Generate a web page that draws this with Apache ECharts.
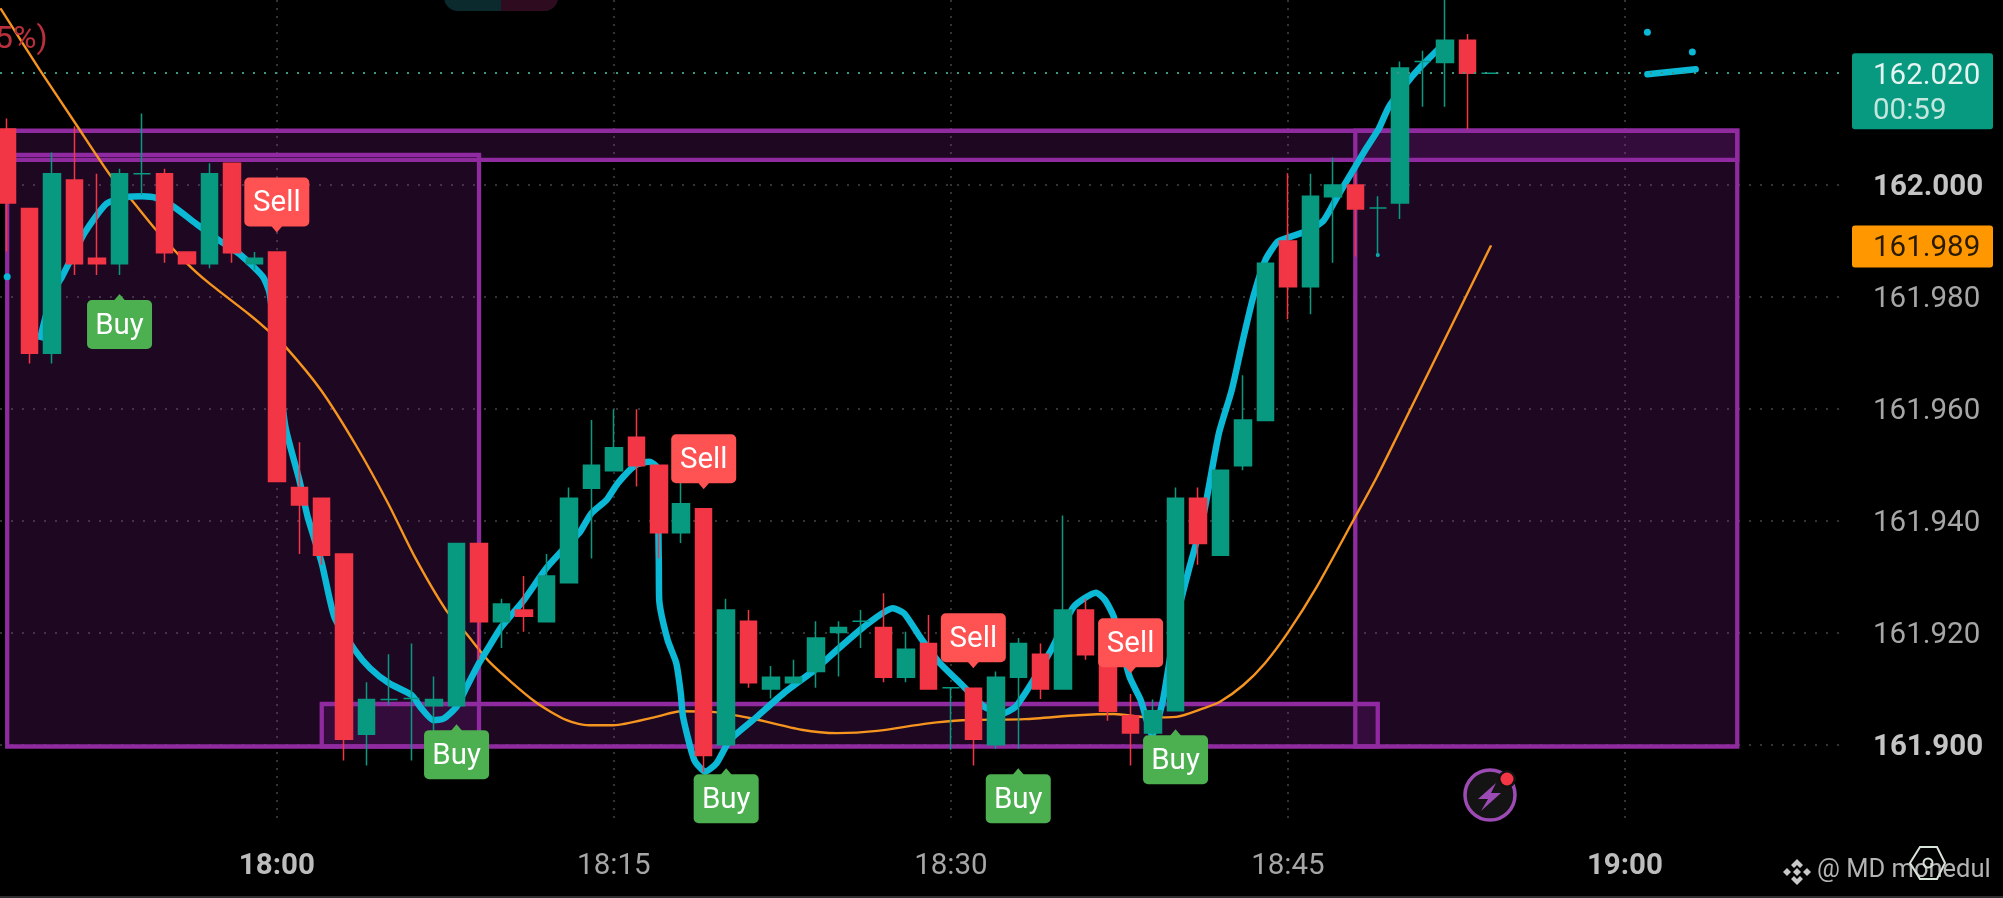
<!DOCTYPE html>
<html><head><meta charset="utf-8">
<style>html,body{margin:0;padding:0;background:#000;overflow:hidden}#c{width:2003px;height:898px}</style>
<script src="https://cdn.jsdelivr.net/npm/echarts@6/dist/echarts.min.js"></script>
</head><body><div id="c"></div>
<script>
// minutes of the day; candle i sits at firstMinute + i
const firstMinute = 1068; // 17:48
const opens  = [162.0100,161.9958,161.9699,162.0009,161.9869,161.9859,162.0020,162.0020,161.9880,161.9859,162.0039,161.9859,161.9880,161.9459,161.9440,161.9340,161.9018,161.9080,161.9082,161.9069,161.9069,161.9359,161.9219,161.9240,161.9219,161.9289,161.9458,161.9489,161.9549,161.9499,161.9378,161.9421,161.8999,161.9220,161.9099,161.9110,161.9130,161.9200,161.9220,161.9209,161.9120,161.9180,161.9101,161.9100,161.8999,161.9120,161.9161,161.9099,161.9240,161.9150,161.9051,161.9020,161.9060,161.9440,161.9338,161.9498,161.9579,161.9900,161.9818,161.9979,162.0000,161.9959,161.9968,162.0221,162.0219,162.0259,162.0200];
const closes = [161.9968,161.9699,162.0020,161.9859,161.9859,162.0020,162.0020,161.9879,161.9859,162.0020,161.9879,161.9869,161.9470,161.9428,161.9338,161.9009,161.9080,161.9080,161.9082,161.9080,161.9359,161.9219,161.9251,161.9229,161.9301,161.9440,161.9499,161.9530,161.9498,161.9378,161.9430,161.8980,161.9240,161.9110,161.9120,161.9120,161.9190,161.9209,161.9220,161.9120,161.9170,161.9099,161.9101,161.9009,161.9120,161.9180,161.9099,161.9240,161.9160,161.9059,161.9020,161.9060,161.9440,161.9359,161.9490,161.9580,161.9860,161.9818,161.9980,162.0000,161.9957,161.9959,162.0209,162.0221,162.0259,162.0200,162.0200];
const highs  = [162.0119,161.9958,162.0058,162.0105,162.0020,162.0029,162.0128,162.0029,161.9880,162.0039,162.0039,161.9880,161.9880,161.9540,161.9440,161.9340,161.9111,161.9161,161.9180,161.9121,161.9359,161.9359,161.9260,161.9301,161.9340,161.9459,161.9580,161.9599,161.9599,161.9499,161.9499,161.9421,161.9260,161.9240,161.9140,161.9151,161.9220,161.9220,161.9240,161.9270,161.9201,161.9231,161.9101,161.9100,161.9130,161.9190,161.9180,161.9409,161.9260,161.9180,161.9090,161.9080,161.9459,161.9459,161.9490,161.9660,161.9860,162.0021,162.0020,162.0049,162.0020,161.9980,162.0221,162.0240,162.0331,162.0270,162.0200];
const lows   = [161.9881,161.9681,161.9681,161.9839,161.9839,161.9839,161.9982,161.9861,161.9859,161.9851,161.9861,161.9848,161.9470,161.9340,161.9321,161.8971,161.8962,161.9070,161.8971,161.9012,161.9069,161.9151,161.9172,161.9201,161.9219,161.9289,161.9332,161.9489,161.9461,161.9332,161.9360,161.8950,161.8999,161.9101,161.9082,161.9110,161.9101,161.9121,161.9172,161.9111,161.9111,161.9099,161.8990,161.8962,161.8992,161.8992,161.9081,161.9099,161.9151,161.9042,161.8962,161.9017,161.9060,161.9321,161.9338,161.9490,161.9579,161.9760,161.9769,161.9861,161.9872,161.9872,161.9939,162.0140,162.0140,162.0100,162.0200];

// thick cyan line: minutes after 17:48 and price
const cyanT = [1.45,2,2.44,3.44,4.43,5.42,6.02,6.62,7.41,8.4,9.4,10.39,11.38,11.68,12,12.38,13,13.37,14,14.56,15.46,16.15,17,18,18.44,18.97,19.43,20,20.42,21,21.5,22,23,24,25,25.5,26,26.68,27.18,27.96,28.57,28.9,29,29.02,29.39,29.78,29.98,30.08,30.58,31.07,31.57,32.17,33.36,34.55,35.94,36.94,38.13,39.42,39.92,40.71,41.51,42.5,43.49,44.29,44.88,45.68,46.47,47.47,48.46,48.86,49.25,49.95,50.45,50.96,51.44,52.03,52.63,53.23,53.93,54.5,55,55.46,56,56.55,57,58,58.6,59.2,60,60.45,61.05,61.5,62.4,63,63.75];
const cyanP = [161.9723,161.9806,161.9836,161.9914,161.9967,161.9979,161.9980,161.9977,161.9961,161.9931,161.9902,161.9875,161.9836,161.9806,161.9699,161.9568,161.9473,161.9407,161.9324,161.9228,161.9169,161.9136,161.9109,161.9088,161.9064,161.9043,161.9046,161.9067,161.9100,161.9145,161.9178,161.9210,161.9258,161.9315,161.9359,161.9380,161.9413,161.9437,161.9467,161.9499,161.9505,161.9496,161.9330,161.9258,161.9187,161.9145,161.9091,161.9049,161.8972,161.8951,161.8966,161.9008,161.9049,161.9091,161.9133,161.9169,161.9210,161.9243,161.9234,161.9187,161.9145,161.9106,161.9067,161.9055,161.9067,161.9115,161.9169,161.9246,161.9271,161.9258,161.9228,161.9121,161.9079,161.9017,161.9079,161.9222,161.9318,161.9407,161.9556,161.9633,161.9723,161.9800,161.9866,161.9899,161.9906,161.9920,161.9937,161.9979,162.0033,162.0063,162.0101,162.0140,162.0188,162.0215,162.0245];

// thin orange line
const orangeT = [-0.3,1.45,3.04,4.63,5.42,6.62,8,9,10.79,11.58,12.38,13.97,15.56,16.95,18.14,19.53,20.43,21.52,23.5,24.9,25.89,26.98,28.87,29.98,31.37,33.16,35.35,36.94,38.72,40.91,42.5,45.28,47.66,49.25,50.84,52.03,53.23,53.98,55.02,55.98,57.02,58.29,59.92,60.96,61.78,66.04];
const orangeP = [162.0316,162.0206,162.0110,162.0015,161.9979,161.9920,161.9860,161.9824,161.9768,161.9741,161.9711,161.9633,161.9532,161.9431,161.9335,161.9240,161.9198,161.9145,161.9076,161.9043,161.9034,161.9034,161.9049,161.9059,161.9058,161.9046,161.9026,161.9020,161.9024,161.9037,161.9043,161.9045,161.9052,161.9054,161.9048,161.9049,161.9064,161.9076,161.9106,161.9145,161.9201,161.9282,161.9401,161.9478,161.9544,161.9892];

// stray cyan marks
const dotT = [0,61,73,75];
const dotP = [161.9836,161.9875,162.0273,162.0238];
const dotS = [7,4,7,7];
const stubT = [73,75.15];
const stubP = [162.0198,162.0207];

// purple zones: start, end (minutes after 17:48), top, bottom price
const zoneStart  = [0,0,14,60];
const zoneEnd    = [21,77,61,77];
const zoneTop    = [162.0054,162.0097,161.9072,162.0097];
const zoneBottom = [161.8996,162.0045,161.8996,161.8996];

// signals: candle index, tip price
const signalKind  = ['Sell','Buy','Sell','Buy','Buy','Sell','Buy','Sell','Buy'];
const signalIndex = [12,5,31,20,32,43,45,50,52];
const signalPrice = [161.9915,161.9805,161.9456,161.9036,161.8957,161.9136,161.8957,161.9127,161.9027];

const yTicks = [161.90,161.92,161.94,161.96,161.98,162.00];
const yBold = ['161.900','162.000'];
const xTicks = [1080,1095,1110,1125,1140];
const lastPrice = 162.020, countdown = '00:59', avgPrice = 161.989;

const TEAL='#089981', RED='#f23645', PURPLE='#8f2a9f', CYAN='#0bb8d6', ORANGE='#f5941f';
const FONT='Roboto';
const candleData = opens.map((o,i)=>[firstMinute+i,o,closes[i],lows[i],highs[i]]);
const pair=(T,P)=>T.map((t,i)=>[firstMinute+t,P[i]]);
const GRID='#343434';

const chart = echarts.init(document.getElementById('c'),null,{renderer:'canvas'});
chart.setOption({
  animation:false, backgroundColor:'#000',
  grid:{left:0,right:157,top:0,bottom:77,containLabel:false},
  xAxis:{type:'value',min:1067.68,max:1149.84,
    axisLine:{show:false},axisTick:{show:false,customValues:xTicks},
    splitLine:{show:true,lineStyle:{color:GRID,width:2,type:[2,6]}},
    axisLabel:{customValues:xTicks,margin:31,fontFamily:FONT,fontSize:29.5,color:'#a6a6a6',
      formatter:v=>{const h=Math.floor(v/60),m=v%60,s=h+':'+String(m).padStart(2,'0');return m===0?'{b|'+s+'}':s;},
      rich:{b:{fontFamily:FONT,fontSize:29.5,fontWeight:'bold',color:'#bdbdbd'}}}},
  yAxis:{type:'value',position:'right',min:161.88628,max:162.03308,scale:true,
    axisLine:{show:false},axisTick:{show:false,customValues:yTicks},
    splitLine:{show:true,lineStyle:{color:GRID,width:2,type:[2,9]}},
    axisLabel:{customValues:yTicks,margin:27,align:'left',padding:[6,0,0,0],fontFamily:FONT,fontSize:29.5,color:'#a6a6a6',
      formatter:v=>{const s=v.toFixed(3);return yBold.includes(s)?'{b|'+s+'}':s;},
      rich:{b:{fontFamily:FONT,fontSize:29.5,fontWeight:'bold',color:'#c4c4c4'}}}},
  series:[
    {type:'custom',name:'zones',z:1,clip:true,
      data:zoneStart.map((s,i)=>[firstMinute+s,firstMinute+zoneEnd[i],zoneTop[i],zoneBottom[i]]),
      encode:{x:[0,1],y:[2,3]},
      renderItem:(p,api)=>{
        const a=api.coord([api.value(0),api.value(2)]),b=api.coord([api.value(1),api.value(3)]);
        return {type:'rect',shape:{x:a[0],y:a[1],width:b[0]-a[0],height:b[1]-a[1]},
          style:{fill:'rgba(156,39,176,0.19)',stroke:PURPLE,lineWidth:4.3}};
      }},
    {type:'line',name:'slow',z:2,data:pair(orangeT,orangeP),showSymbol:false,smooth:0.25,
      lineStyle:{color:ORANGE,width:2.4}},
    {type:'line',name:'fast',z:3,data:pair(cyanT,cyanP),showSymbol:false,smooth:0.2,
      lineStyle:{color:CYAN,width:6.5}},
    {type:'line',name:'stub',z:3,data:pair(stubT,stubP),showSymbol:false,
      lineStyle:{color:CYAN,width:6.5,cap:'round'}},
    {type:'scatter',name:'dots',z:3,data:dotT.map((t,i)=>({value:[firstMinute+t,dotP[i]],symbolSize:dotS[i]})),
      itemStyle:{color:CYAN,opacity:1}},
    {type:'line',name:'last',z:2,data:[],markLine:{silent:true,symbol:'none',label:{show:false},
      data:[{yAxis:lastPrice}],lineStyle:{color:'#3c9583',width:2,type:[2,9]}}},
    {type:'candlestick',name:'candles',z:4,data:candleData,barWidth:17,
      encode:{x:0,y:[1,2,3,4]},
      itemStyle:{color:TEAL,color0:RED,borderColor:TEAL,borderColor0:RED,borderColorDoji:TEAL,borderWidth:1.5}},
    {type:'custom',name:'signals',z:6,clip:false,
      data:signalKind.map((k,i)=>[firstMinute+signalIndex[i],signalPrice[i],k]),
      renderItem:(p,api)=>{
        const c=api.coord([api.value(0),api.value(1)]),kind=signalKind[p.dataIndex];
        const buy=kind==='Buy',col=buy?'#4caf50':'#ff5252',w=65,h=49,tip=6;
        const tx=c[0],ty=c[1];
        const boxY=buy?ty+tip:ty-tip-h;
        const boxX=tx-w/2;
        return {type:'group',children:[
          {type:'rect',shape:{x:boxX,y:boxY,width:w,height:h,r:5},style:{fill:col}},
          {type:'polygon',shape:{points:buy?[[tx-6,ty+tip+1],[tx+6,ty+tip+1],[tx,ty]]:[[tx-6,ty-tip-1],[tx+6,ty-tip-1],[tx,ty]]},style:{fill:col}},
          {type:'text',style:{x:boxX+w/2,y:boxY+h/2+2,text:kind,fill:'#fff',font:'29.5px '+FONT,align:'center',verticalAlign:'middle'}}
        ]};
      }},
    {type:'custom',name:'tags',z:7,clip:false,
      data:[[firstMinute,lastPrice,0],[firstMinute,avgPrice,1]],
      renderItem:(p,api)=>{
        const y=api.coord([api.value(0),api.value(1)])[1],X=1852,W=141;
        if(p.dataIndex===0){
          const fmt=lastPrice.toFixed(3);
          return {type:'group',children:[
            {type:'rect',shape:{x:X,y:y-20,width:W,height:76,r:3},style:{fill:TEAL}},
            {type:'text',style:{x:X+21,y:y+3,text:fmt,fill:'#e6f4f1',font:'29.5px '+FONT,verticalAlign:'middle'}},
            {type:'text',style:{x:X+21,y:y+38,text:countdown,fill:'#c3e6de',font:'29.5px '+FONT,verticalAlign:'middle'}}
          ]};
        }
        return {type:'group',children:[
          {type:'rect',shape:{x:X,y:y-21,width:W,height:42,r:3},style:{fill:'#ff9800'}},
          {type:'text',style:{x:X+21,y:y+2,text:avgPrice.toFixed(3),fill:'#2a1a00',font:'29.5px '+FONT,verticalAlign:'middle'}}
        ]};
      }}
  ],
  graphic:[
    {type:'text',left:-5,top:24,z:10,style:{text:'5%)',fill:'#b8303c',font:'32px '+FONT}},
    {type:'rect',z:10,shape:{x:444,y:-30,width:114,height:41,r:14},style:{fill:'#0a2a2e'}},
    {type:'rect',z:11,shape:{x:501,y:-30,width:57,height:41,r:[0,14,14,0]},style:{fill:'#2f0b20'}},
    {type:'rect',z:10,shape:{x:0,y:896,width:2003,height:2},style:{fill:'#2e2e2e'}},
    // bolt badge
    {type:'ellipse',z:10,shape:{cx:1490,cy:795,rx:25,ry:25},style:{fill:'#141414',stroke:'#9c4bb4',lineWidth:3.5}},
    {type:'polygon',z:11,shape:{points:[[1496,783],[1478,799],[1488,799],[1481,811],[1501,793],[1491,793]]},style:{fill:'#9c4bb4'}},
    {type:'circle',z:11,shape:{cx:1507,cy:779,r:9},style:{fill:'#111'}},
    {type:'circle',z:12,shape:{cx:1507,cy:779,r:6.5},style:{fill:RED}},
    // watermark
    {type:'polygon',z:10,shape:{points:[[1797,859],[1803,865],[1800,868],[1797,865],[1794,868],[1791,865]]},style:{fill:'#c8c8c8'}},
    {type:'polygon',z:10,shape:{points:[[1797,885],[1803,879],[1800,876],[1797,879],[1794,876],[1791,879]]},style:{fill:'#c8c8c8'}},
    {type:'polygon',z:10,shape:{points:[[1797,868],[1801,872],[1797,876],[1793,872]]},style:{fill:'#c8c8c8'}},
    {type:'polygon',z:10,shape:{points:[[1786,868],[1790,872],[1786,876],[1782,872]]},style:{fill:'#c8c8c8'},x:1},
    {type:'polygon',z:10,shape:{points:[[1808,868],[1812,872],[1808,876],[1804,872]]},style:{fill:'#c8c8c8'},x:-1},
    {type:'text',left:1817,top:858,z:10,style:{text:'@ MD monedul',fill:'#b4b4b4',font:'25.5px '+FONT}},
    {type:'polygon',z:11,shape:{points:[[1920,847],[1937,847],[1945,863],[1937,879],[1920,879],[1910,863]]},style:{fill:'none',stroke:'#d8e4d8',lineWidth:2}},
    {type:'circle',z:11,shape:{cx:1928,cy:863,r:4.5},style:{fill:'none',stroke:'#d8e4d8',lineWidth:2}}
  ]
});
</script></body></html>
